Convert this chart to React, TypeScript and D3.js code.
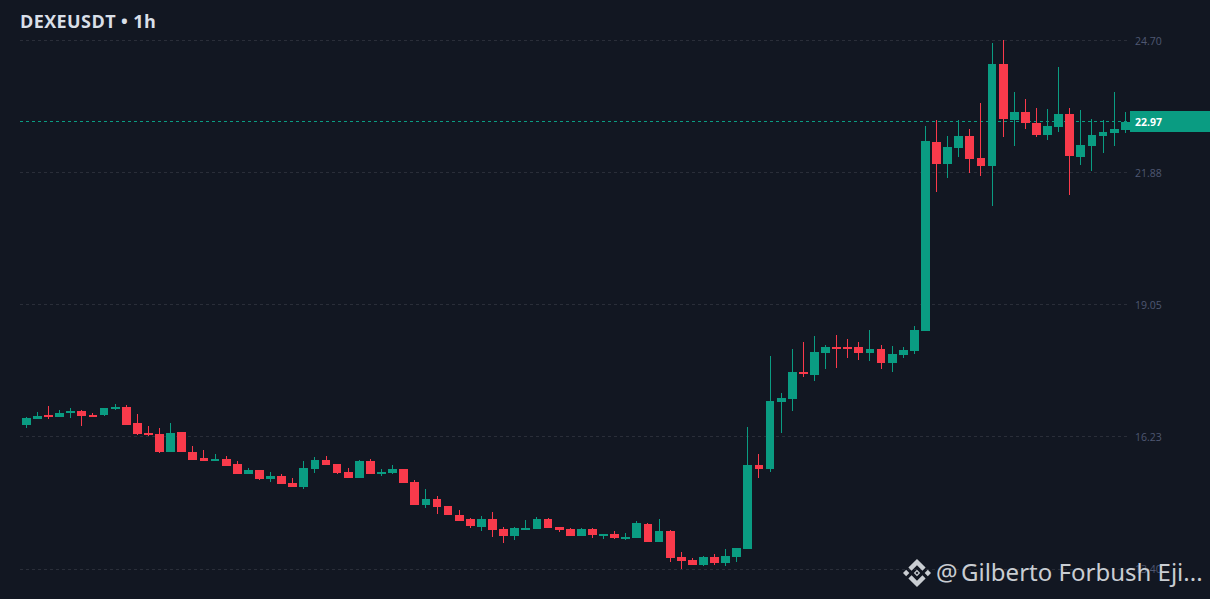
import React, { useEffect, useRef } from "react";
import * as d3 from "d3";

const symbol = "DEXEUSDT • 1h";
const watermarkAt = "@";
const watermarkName = "Gilberto Forbush Eji...";
const priceTicks = [24.7, 21.88, 19.05, 16.23, 13.4];
const lastPrice = 22.97;

const opens = [
  16.48, 16.61, 16.70, 16.65, 16.74, 16.78, 16.70, 16.70, 16.82, 16.87,
  16.53, 16.31, 16.29, 15.90, 16.33, 15.90, 15.78, 15.71, 15.75, 15.65,
  15.43, 15.52, 15.33, 15.39, 15.24, 15.15, 15.54, 15.73, 15.65, 15.48,
  15.35, 15.71, 15.43, 15.45, 15.54, 15.26, 14.77, 14.90, 14.75, 14.56,
  14.47, 14.30, 14.47, 14.26, 14.11, 14.23, 14.26, 14.47, 14.30, 14.26,
  14.11, 14.26, 14.11, 14.15, 14.04, 14.06, 14.36, 13.98, 14.21, 13.66,
  13.59, 13.49, 13.66, 13.53, 13.66, 13.83, 15.63, 15.54, 16.98, 17.04,
  17.62, 17.55, 18.02, 18.15, 18.15, 18.15, 18.02, 18.11, 17.81, 17.98,
  18.07, 18.49, 22.54, 22.07, 22.41, 22.67, 22.20, 22.03, 24.21, 23.01,
  23.18, 22.95, 22.69, 22.86, 23.14, 22.22, 22.45, 22.67, 22.73, 22.80,
];
const closes = [
  16.63, 16.68, 16.65, 16.74, 16.78, 16.68, 16.65, 16.85, 16.87, 16.48,
  16.29, 16.27, 15.90, 16.31, 15.90, 15.73, 15.71, 15.75, 15.61, 15.43,
  15.52, 15.33, 15.39, 15.22, 15.15, 15.56, 15.73, 15.63, 15.45, 15.35,
  15.71, 15.43, 15.48, 15.54, 15.24, 14.77, 14.90, 14.73, 14.56, 14.43,
  14.32, 14.47, 14.23, 14.11, 14.28, 14.28, 14.47, 14.28, 14.23, 14.11,
  14.26, 14.13, 14.15, 14.06, 14.08, 14.38, 13.98, 14.21, 13.64, 13.57,
  13.49, 13.66, 13.53, 13.68, 13.85, 15.63, 15.54, 17.00, 17.06, 17.62,
  17.57, 18.04, 18.15, 18.11, 18.11, 18.02, 18.11, 17.81, 18.00, 18.09,
  18.52, 22.56, 22.07, 22.43, 22.67, 22.17, 22.03, 24.21, 23.03, 23.18,
  22.95, 22.69, 22.88, 23.14, 22.24, 22.47, 22.69, 22.75, 22.82, 22.97,
];
const highs = [
  16.65, 16.76, 16.89, 16.80, 16.85, 16.80, 16.74, 16.85, 16.93, 16.91,
  16.72, 16.46, 16.42, 16.53, 16.33, 16.03, 15.95, 15.86, 15.82, 15.71,
  15.56, 15.52, 15.48, 15.43, 15.35, 15.71, 15.80, 15.82, 15.65, 15.56,
  15.73, 15.75, 15.54, 15.63, 15.54, 15.31, 15.11, 14.96, 14.75, 14.66,
  14.49, 14.53, 14.62, 14.30, 14.30, 14.45, 14.51, 14.49, 14.30, 14.28,
  14.28, 14.28, 14.15, 14.21, 14.17, 14.43, 14.38, 14.47, 14.23, 13.76,
  13.64, 13.68, 13.72, 13.83, 13.85, 16.44, 15.86, 17.96, 17.17, 18.11,
  18.26, 18.39, 18.19, 18.41, 18.32, 18.26, 18.52, 18.19, 18.17, 18.15,
  18.60, 22.88, 23.01, 22.67, 23.01, 22.82, 23.37, 24.66, 24.72, 23.61,
  23.46, 23.27, 23.25, 24.14, 23.27, 23.22, 23.03, 23.01, 23.61, 23.18,
];
const lows = [
  16.42, 16.61, 16.61, 16.65, 16.63, 16.46, 16.65, 16.68, 16.80, 16.48,
  16.27, 16.25, 15.88, 15.90, 15.90, 15.73, 15.71, 15.71, 15.61, 15.43,
  15.43, 15.31, 15.26, 15.22, 15.15, 15.11, 15.45, 15.63, 15.43, 15.35,
  15.35, 15.43, 15.39, 15.43, 15.24, 14.77, 14.71, 14.58, 14.56, 14.43,
  14.28, 14.21, 14.08, 13.96, 14.02, 14.23, 14.26, 14.28, 14.19, 14.11,
  14.11, 14.06, 14.04, 14.04, 14.02, 14.06, 13.98, 13.98, 13.55, 13.40,
  13.49, 13.47, 13.49, 13.47, 13.55, 13.83, 15.35, 15.48, 16.31, 16.78,
  17.51, 17.42, 17.68, 17.70, 17.92, 17.87, 17.85, 17.68, 17.62, 17.92,
  18.00, 18.49, 21.47, 21.77, 22.22, 21.88, 21.81, 21.17, 22.65, 22.45,
  22.82, 22.65, 22.58, 22.75, 21.40, 22.05, 21.92, 22.30, 22.45, 22.73,
];

const width = 1210;
const height = 599;
const bg = "#121722";
const up = "#0a9c82";
const down = "#f93a4b";

const logoPaths = [
  "M38.73 53.2l24.59-24.58 24.6 24.6 14.3-14.31L63.32 0l-38.9 38.9z",
  "M0 63.31l14.3-14.31 14.31 14.31-14.31 14.3z",
  "M38.73 73.41l24.59 24.59 24.6-24.6 14.31 14.29-38.9 38.91-38.91-38.88-.02-.02z",
  "M98 63.31l14.3-14.31 14.31 14.3-14.31 14.32z",
  "M77.83 63.3L63.32 48.78 48.81 63.28l14.51 14.5 14.51-14.47zM63.32 56.5l6.8 6.8-6.8 6.8-6.8-6.8z",
];

export default function App() {
  const ref = useRef<SVGSVGElement | null>(null);

  useEffect(() => {
    const svg = d3.select(ref.current);
    svg.selectAll("*").remove();

    const y = d3.scaleLinear().domain([13.4, 24.7]).range([569.2, 40.8]);
    const x = d3.scaleLinear().domain([0, opens.length - 1]).range([26.3, 1125.2]);

    // grid
    svg
      .append("g")
      .selectAll("line")
      .data(priceTicks)
      .enter()
      .append("line")
      .attr("x1", 20)
      .attr("x2", 1128)
      .attr("y1", (d) => Math.floor(y(d)) + 0.5)
      .attr("y2", (d) => Math.floor(y(d)) + 0.5)
      .attr("stroke", "#2a2e39")
      .attr("stroke-dasharray", "3 3");

    // axis labels
    svg
      .append("g")
      .selectAll("text")
      .data(priceTicks)
      .enter()
      .append("text")
      .attr("x", 1135)
      .attr("y", (d) => y(d) + 4)
      .attr("font-family", "'Open Sans', sans-serif")
      .attr("font-size", 10.5)
      .attr("fill", "#4f5872")
      .text((d) => d.toFixed(2));

    // last price line
    svg
      .append("line")
      .attr("x1", 20)
      .attr("x2", 1130)
      .attr("y1", Math.floor(y(lastPrice)) + 0.5)
      .attr("y2", Math.floor(y(lastPrice)) + 0.5)
      .attr("stroke", up)
      .attr("stroke-dasharray", "3 3");

    const candles = d3.range(opens.length);

    // wicks
    svg
      .append("g")
      .selectAll("rect")
      .data(candles)
      .enter()
      .append("rect")
      .attr("x", (i) => Math.floor(x(i)))
      .attr("width", 1)
      .attr("y", (i) => y(highs[i]))
      .attr("height", (i) => y(lows[i]) - y(highs[i]))
      .attr("shape-rendering", "crispEdges")
      .attr("fill", (i) => (closes[i] >= opens[i] ? up : down));

    // bodies
    const halfBody = 4.4;
    svg
      .append("g")
      .selectAll("rect")
      .data(candles)
      .enter()
      .append("rect")
      .attr("x", (i) => Math.round(x(i) - halfBody))
      .attr("width", (i) => Math.round(x(i) + halfBody) - Math.round(x(i) - halfBody))
      .attr("y", (i) => Math.round(y(Math.max(opens[i], closes[i]))))
      .attr("height", (i) =>
        Math.max(1, Math.round(y(Math.min(opens[i], closes[i]))) - Math.round(y(Math.max(opens[i], closes[i]))))
      )
      .attr("shape-rendering", "crispEdges")
      .attr("fill", (i) => (closes[i] >= opens[i] ? up : down));

    // last price tag
    const tagY = y(lastPrice);
    svg
      .append("rect")
      .attr("x", 1130)
      .attr("y", Math.round(tagY - 10.6))
      .attr("width", 80)
      .attr("height", 21)
      .attr("fill", up);
    svg
      .append("text")
      .attr("x", 1135)
      .attr("y", tagY + 4)
      .attr("font-family", "'Open Sans', sans-serif")
      .attr("font-size", 10.5)
      .attr("font-weight", 700)
      .attr("fill", "#ffffff")
      .text(lastPrice.toFixed(2));

    // title
    svg
      .append("text")
      .attr("x", 20)
      .attr("y", 28)
      .attr("font-family", "'Open Sans', sans-serif")
      .attr("font-size", 18)
      .attr("font-weight", 700)
      .attr("letter-spacing", 0.4)
      .attr("fill", "#d9dfe8")
      .text(symbol);

    // binance watermark
    const logo = svg
      .append("g")
      .attr("transform", "translate(903,559) scale(0.221)")
      .attr("fill", "#c9cdd2");
    logo
      .selectAll("path")
      .data(logoPaths)
      .enter()
      .append("path")
      .attr("fill-rule", "evenodd")
      .attr("d", (d) => d);
    const mark = svg
      .append("text")
      .attr("y", 581)
      .attr("font-family", "'Noto Sans', sans-serif")
      .attr("font-size", 24)
      .attr("fill", "#c9cdd2");
    mark.append("tspan").attr("x", 936).text(watermarkAt);
    mark.append("tspan").attr("x", 961).text(watermarkName);
  }, []);

  return (
    <svg
      ref={ref}
      width={width}
      height={height}
      style={{ position: "absolute", left: 0, top: 0, display: "block", background: bg }}
    />
  );
}
